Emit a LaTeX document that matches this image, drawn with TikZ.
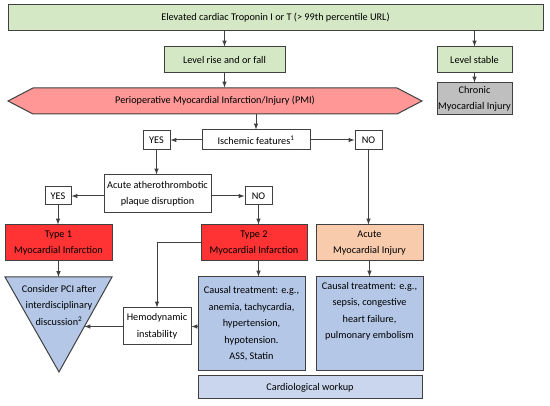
\documentclass[tikz,border=0pt]{standalone}
\usepackage{fontspec}
\setmainfont{Carlito}
\usetikzlibrary{shapes.symbols}
\definecolor{edgegray}{HTML}{404040}
\definecolor{palegreen}{HTML}{D5E8C5}
\definecolor{pmipink}{HTML}{FF9797}
\definecolor{mired}{HTML}{FF3333}
\definecolor{injpeach}{HTML}{F8CBAD}
\definecolor{treatblue}{HTML}{B4C7E7}
\definecolor{workblue}{HTML}{C9D6EE}
\definecolor{chronicgray}{HTML}{BFBFBF}
\begin{document}
\begin{tikzpicture}[>=latex,x=1pt,y=-1pt,line width=1pt,draw=edgegray,
  box/.style={draw=edgegray,inner sep=1pt,align=center,
    font=\fontsize{10.25}{16.5}\selectfont},
  answer/.style={box,minimum width=27pt,minimum height=19pt},
  link/.style={->,draw=edgegray}]
\useasboundingbox (0,0) rectangle (550,406);
% top row
\node[box,fill=palegreen,minimum width=535pt,minimum height=26pt] (trop) at (275.5,18)
  {Elevated cardiac Troponin I or T (> 99th percentile URL)};
\node[box,fill=palegreen,minimum width=121pt,minimum height=26pt] (rise) at (224.5,60)
  {Level rise and or fall};
\node[box,fill=palegreen,minimum width=75pt,minimum height=26pt] (stable) at (474.5,60)
  {Level stable};
\node[box,fill=chronicgray,minimum width=75pt,minimum height=32pt] (chronic) at (474.5,99)
  {Chronic\\Myocardial Injury};
\node[box,signal,signal to=west and east,signal pointer angle=55,fill=pmipink,
  minimum width=414pt,minimum height=26pt,inner sep=0pt] (pmi) at (215,101)
  {Perioperative Myocardial Infarction/Injury (PMI)};
% decisions
\node[box,minimum width=108pt,minimum height=20pt] (isch) at (256,140)
  {Ischemic features\textsuperscript{1}};
\node[answer] (yesA) at (156.5,140) {YES};
\node[answer] (noA) at (368.5,140) {NO};
\node[box,minimum width=107pt,minimum height=38pt] (athero) at (157.5,194)
  {Acute atherothrombotic\\plaque disruption};
\node[answer,minimum width=26pt,minimum height=18pt] (yesB) at (58,196) {YES};
\node[answer,minimum height=18pt] (noB) at (258.5,196) {NO};
% diagnoses
\node[box,fill=mired,minimum width=107pt,minimum height=36pt] (typeA) at (58.5,243)
  {Type 1\\Myocardial Infarction};
\node[box,fill=mired,minimum width=106pt,minimum height=36pt] (typeB) at (254,243)
  {Type 2\\Myocardial Infarction};
\node[box,fill=injpeach,minimum width=107pt,minimum height=36pt] (acute) at (369.5,243)
  {Acute\\Myocardial Injury};
% treatment
\draw[fill=treatblue] (5,277) coordinate (pcitl) -- (112,277) coordinate (pcitr)
  -- (59,372) coordinate (pcitip) -- cycle;
\coordinate (pciedge) at (84.5,326.5);
\node[align=center,font=\fontsize{10.25}{16.5}\selectfont] (pci) at (59,305)
  {Consider PCI after\\interdisciplinary\\discussion\textsuperscript{2}};
\node[box,fill=white,minimum width=68pt,minimum height=37pt] (hemo) at (157,326.5)
  {Hemodynamic\\instability};
\node[box,fill=treatblue,minimum width=107pt,minimum height=94pt] (causalA) at (251.5,324)
  {Causal treatment: e.g.,\\anemia, tachycardia,\\hypertension,\\hypotension.\\ASS, Statin};
\node[box,fill=treatblue,minimum width=107pt,minimum height=94pt,inner sep=0pt] (causalB) at (369.5,324)
  {\parbox[t][84pt][t]{105pt}{\centering Causal treatment: e.g.,\\sepsis, congestive\\heart failure,\\pulmonary embolism}};
\node[box,fill=workblue,minimum width=224pt,minimum height=23pt] (workup) at (310,387.5)
  {Cardiological workup};
% connectors
\draw[link] (trop.south -| rise) -- (rise);
\draw[link] (trop.south -| stable) -- (stable);
\draw[link] (stable) -- (chronic);
\draw[link] (rise) -- (rise |- pmi.north);
\draw[link] (pmi.south -| isch) -- (isch);
\draw[link] (isch) -- (yesA);
\draw[link] (isch) -- (noA);
\draw[link] (yesA) -- (yesA |- athero.north);
\draw[link] (athero.west |- yesB) -- (yesB);
\draw[link] (athero.east |- noB) -- (noB);
\draw[link] (yesB) -- (yesB |- typeA.north);
\draw[link] (noB) -- (noB |- typeB.north);
\draw[link] (noA) -- (noA |- acute.north);
\draw[link] (typeA) -- (typeA |- pcitl);
\draw[link] (noB |- typeB.south) -- (noB |- causalA.north);
\draw[link] (acute) -- (causalB);
\draw[link] (typeB.west) -| (hemo);
\draw[link] (causalA.west |- hemo) -- (hemo);
\draw[link] (hemo) -- (pciedge);
\end{tikzpicture}
\end{document}
